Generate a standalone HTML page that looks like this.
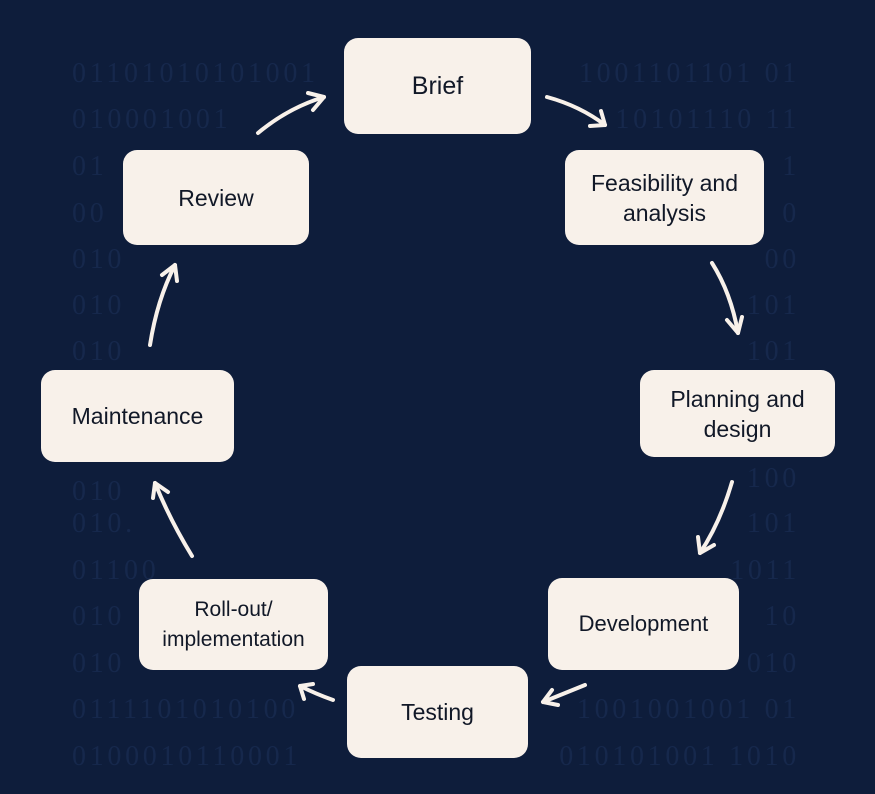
<!DOCTYPE html>
<html><head><meta charset="utf-8"><style>
html,body{margin:0;padding:0}
body{width:875px;height:794px;background:#0e1d3b;position:relative;overflow:hidden;font-family:"Liberation Sans",sans-serif}
.bin{position:absolute;font-family:"Liberation Serif",serif;font-size:28px;color:#16284c;letter-spacing:3.7px;white-space:pre;line-height:1}
.box{position:absolute;background:#f8f1ea;border-radius:14px;display:flex;align-items:center;justify-content:center;text-align:center;color:#111827;font-size:23px;line-height:30px}
</style></head><body>
<div class="bin" style="left:72px;top:60px">01101010101001</div>
<div class="bin" style="left:72px;top:106px">010001001</div>
<div class="bin" style="left:72px;top:153px">01</div>
<div class="bin" style="left:72px;top:200px">00</div>
<div class="bin" style="left:72px;top:246px">010</div>
<div class="bin" style="left:72px;top:292px">010</div>
<div class="bin" style="left:72px;top:338px">010</div>
<div class="bin" style="left:72px;top:478px">010</div>
<div class="bin" style="left:72px;top:510px">010.</div>
<div class="bin" style="left:72px;top:557px">01100</div>
<div class="bin" style="left:72px;top:603px">010</div>
<div class="bin" style="left:72px;top:650px">010</div>
<div class="bin" style="left:72px;top:696px">0111101010100</div>
<div class="bin" style="left:72px;top:743px">0100010110001</div>
<div class="bin" style="right:75px;top:60px">1001101101 01</div>
<div class="bin" style="right:75px;top:106px">10101110 11</div>
<div class="bin" style="right:75px;top:153px">1</div>
<div class="bin" style="right:75px;top:200px">0</div>
<div class="bin" style="right:75px;top:246px">00</div>
<div class="bin" style="right:75px;top:292px">101</div>
<div class="bin" style="right:75px;top:338px">101</div>
<div class="bin" style="right:75px;top:465px">100</div>
<div class="bin" style="right:75px;top:510px">101</div>
<div class="bin" style="right:75px;top:557px">1011</div>
<div class="bin" style="right:75px;top:603px">10</div>
<div class="bin" style="right:75px;top:650px">010</div>
<div class="bin" style="right:75px;top:696px">1001001001 01</div>
<div class="bin" style="right:75px;top:743px">010101001 1010</div>

<div class="box" style="left:344px;top:38px;width:187px;height:96px;font-size:25px">Brief</div>
<div class="box" style="left:123px;top:150px;width:186px;height:95px">Review</div>
<div class="box" style="left:565px;top:150px;width:199px;height:95px">Feasibility and<br>analysis</div>
<div class="box" style="left:41px;top:370px;width:193px;height:92px">Maintenance</div>
<div class="box" style="left:640px;top:370px;width:195px;height:87px">Planning and<br>design</div>
<div class="box" style="left:139px;top:579px;width:189px;height:91px;font-size:21px">Roll-out/<br>implementation</div>
<div class="box" style="left:548px;top:578px;width:191px;height:92px;font-size:22px">Development</div>
<div class="box" style="left:347px;top:666px;width:181px;height:92px">Testing</div>

<svg width="875" height="794" style="position:absolute;left:0;top:0" fill="none" stroke="#f8f1ea" stroke-width="4" stroke-linecap="round" stroke-linejoin="round">
<path d="M258 133 Q288 108 324 97"/><path d="M308 93 L324 97 L313 110"/>
<path d="M547 97 Q580 106 605 125"/><path d="M590 126 L605 125 L601 111"/>
<path d="M712 263 Q731 293 738 333"/><path d="M727 320 L738 333 L742 317"/>
<path d="M732 482 Q720 523 700 553"/><path d="M698 537 L700 553 L714 545"/>
<path d="M585 685 Q565 693 543 702"/><path d="M552 690 L543 702 L558 705"/>
<path d="M333 700 Q316 694 300 686"/><path d="M304 699 L300 686 L313 684"/>
<path d="M192 556 Q170 520 155 483"/><path d="M153 498 L155 483 L168 492"/>
<path d="M150 345 Q157 300 175 265"/><path d="M162 275 L175 265 L177 281"/>
</svg>
</body></html>
